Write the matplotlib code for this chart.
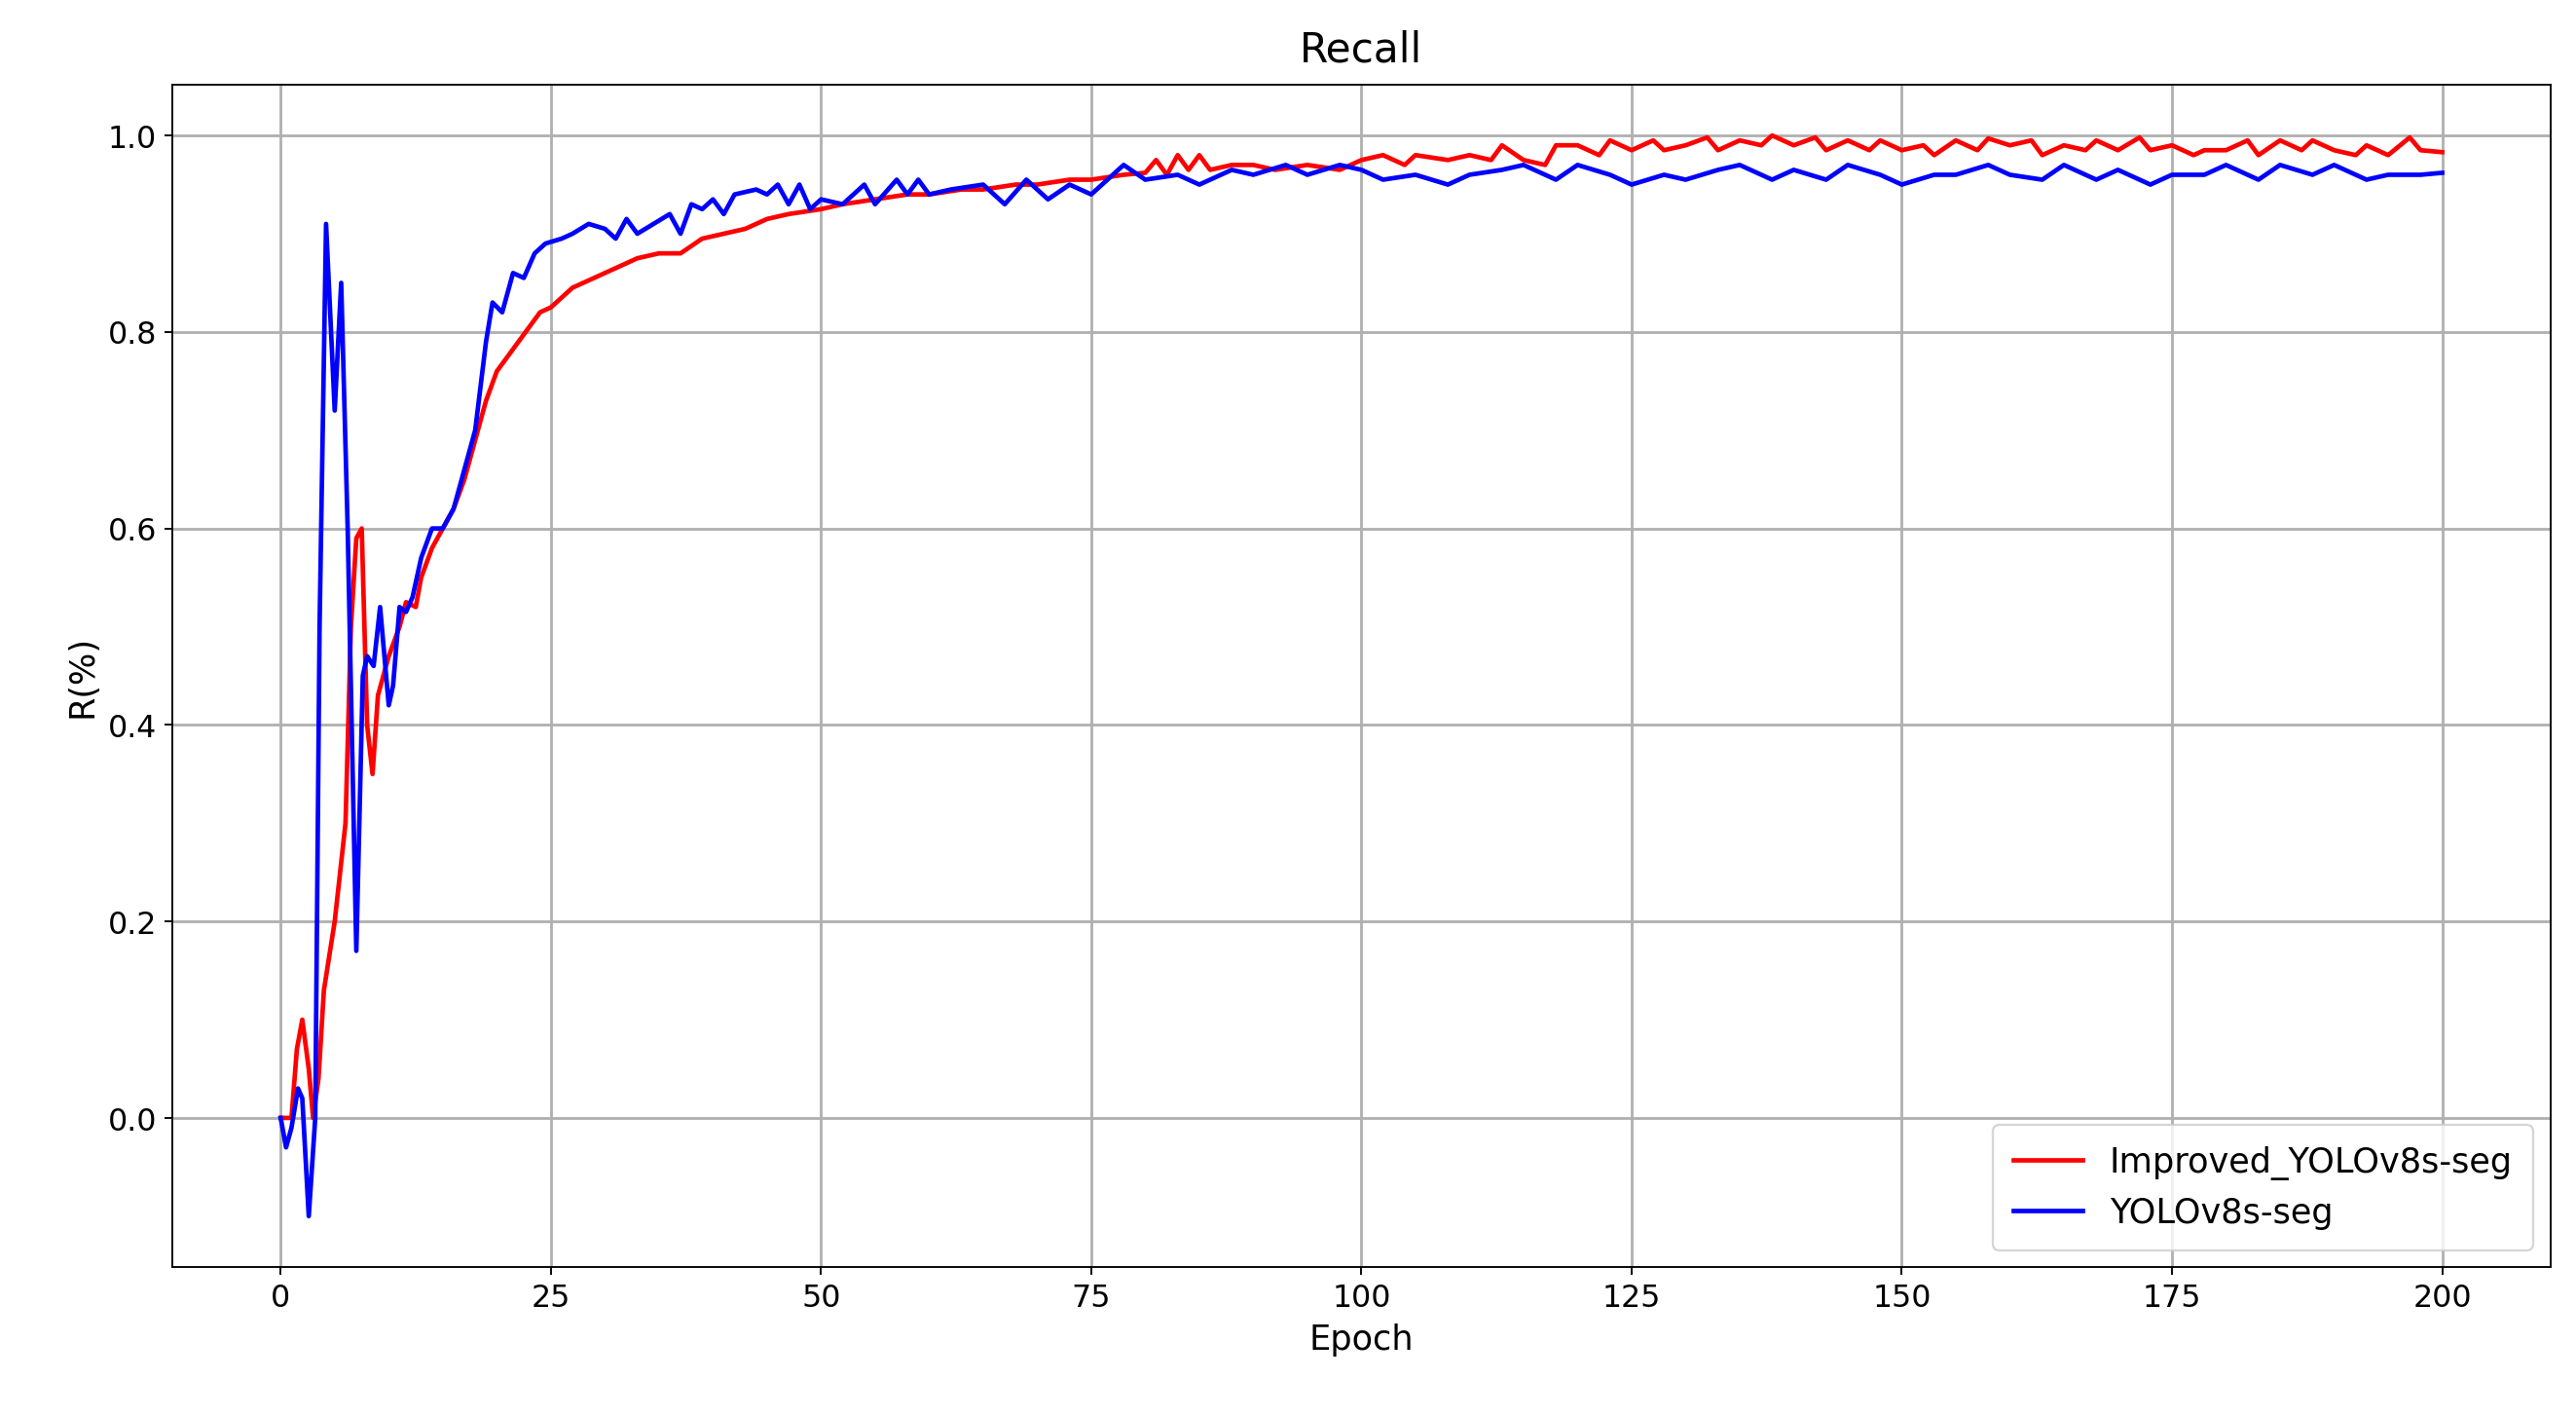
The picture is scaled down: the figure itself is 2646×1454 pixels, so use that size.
import numpy as np
import matplotlib.pyplot as plt

# Improved_YOLOv8s-seg recall
red_x = [0, 1, 1.5, 2, 2.6, 3, 3.5, 4, 5, 6, 6.5, 7, 7.5, 8, 8.5, 9, 10, 11, 11.6, 12.5, 13, 14, 15, 16, 17, 18, 19, 20,
         22, 24, 25, 27, 29, 31, 33, 35, 37, 39, 41, 43, 45, 47, 50, 52, 55, 58, 60, 63, 65, 68, 70, 73, 75, 78, 80, 81,
         82, 83, 84, 85, 86, 88, 90, 92, 95, 98, 100, 102, 104, 105, 108, 110, 112, 113, 115, 117, 118, 120, 122, 123,
         125, 127, 128, 130, 132, 133, 135, 137, 138, 140, 142, 143, 145, 147, 148, 150, 152, 153, 155, 157, 158, 160,
         162, 163, 165, 167, 168, 170, 172, 173, 175, 177, 178, 180, 182, 183, 185, 187, 188, 190, 192, 193, 195, 197,
         198, 200]
red_y = [0.0, 0.0, 0.07, 0.1, 0.05, 0.0, 0.04, 0.13, 0.2, 0.3, 0.5, 0.59, 0.6, 0.4, 0.35, 0.43, 0.47, 0.5, 0.525, 0.52,
         0.55, 0.58, 0.6, 0.62, 0.65, 0.69, 0.73, 0.76, 0.79, 0.82, 0.825, 0.845, 0.855, 0.865, 0.875, 0.88, 0.88, 0.895,
         0.9, 0.905, 0.915, 0.92, 0.925, 0.93, 0.935, 0.94, 0.94, 0.945, 0.945, 0.95, 0.95, 0.955, 0.955, 0.96, 0.962,
         0.975, 0.96, 0.98, 0.965, 0.98, 0.965, 0.97, 0.97, 0.965, 0.97, 0.965, 0.975, 0.98, 0.97, 0.98, 0.975, 0.98,
         0.975, 0.99, 0.975, 0.97, 0.99, 0.99, 0.98, 0.995, 0.985, 0.995, 0.985, 0.99, 0.998, 0.985, 0.995, 0.99, 1.0,
         0.99, 0.998, 0.985, 0.995, 0.985, 0.995, 0.985, 0.99, 0.98, 0.995, 0.985, 0.997, 0.99, 0.995, 0.98, 0.99,
         0.985, 0.995, 0.985, 0.998, 0.985, 0.99, 0.98, 0.985, 0.985, 0.995, 0.98, 0.995, 0.985, 0.995, 0.985, 0.98,
         0.99, 0.98, 0.998, 0.985, 0.983]

# YOLOv8s-seg recall
blue_x = [0, 0.5, 1, 1.6, 2, 2.6, 3.2, 3.6, 4.2, 5, 5.6, 6.2, 7, 7.6, 8, 8.6, 9.2, 10, 10.4, 11, 11.6, 12.2, 13, 14,
          15, 16, 17, 18, 19, 19.6, 20.5, 21.5, 22.5, 23.5, 24.5, 26, 27, 28.5, 30, 31, 32, 33, 34.5, 36, 37, 38, 39,
          40, 41, 42, 44, 45, 46, 47, 48, 49, 50, 52, 54, 55, 57, 58, 59, 60, 62, 65, 67, 69, 71, 73, 75, 78, 80, 83,
          85, 88, 90, 93, 95, 98, 100, 102, 105, 108, 110, 113, 115, 118, 120, 123, 125, 128, 130, 133, 135, 138, 140,
          143, 145, 148, 150, 153, 155, 158, 160, 163, 165, 168, 170, 173, 175, 178, 180, 183, 185, 188, 190, 193, 195,
          198, 200]
blue_y = [0.0, -0.03, -0.01, 0.03, 0.02, -0.1, 0.0, 0.5, 0.91, 0.72, 0.85, 0.6, 0.17, 0.45, 0.47, 0.46, 0.52, 0.42,
          0.44, 0.52, 0.515, 0.53, 0.57, 0.6, 0.6, 0.62, 0.66, 0.7, 0.79, 0.83, 0.82, 0.86, 0.855, 0.88, 0.89, 0.895,
          0.9, 0.91, 0.905, 0.895, 0.915, 0.9, 0.91, 0.92, 0.9, 0.93, 0.925, 0.935, 0.92, 0.94, 0.945, 0.94, 0.95,
          0.93, 0.95, 0.925, 0.935, 0.93, 0.95, 0.93, 0.955, 0.94, 0.955, 0.94, 0.945, 0.95, 0.93, 0.955, 0.935, 0.95,
          0.94, 0.97, 0.955, 0.96, 0.95, 0.965, 0.96, 0.97, 0.96, 0.97, 0.965, 0.955, 0.96, 0.95, 0.96, 0.965, 0.97,
          0.955, 0.97, 0.96, 0.95, 0.96, 0.955, 0.965, 0.97, 0.955, 0.965, 0.955, 0.97, 0.96, 0.95, 0.96, 0.96, 0.97,
          0.96, 0.955, 0.97, 0.955, 0.965, 0.95, 0.96, 0.96, 0.97, 0.955, 0.97, 0.96, 0.97, 0.955, 0.96, 0.96, 0.962]

fig = plt.figure(figsize=(15.68, 8.62), dpi=168.75)
ax = fig.add_axes([0.067, 0.105, 0.923, 0.835])
ax.plot(red_x, red_y, color='red', lw=2, label='Improved_YOLOv8s-seg')
ax.plot(blue_x, blue_y, color='blue', lw=2, label='YOLOv8s-seg')
ax.set_xlim(-10, 210)
ax.set_ylim(-0.152, 1.052)
ax.set_xticks(np.arange(0, 201, 25))
ax.grid(True, color='#b0b0b0', lw=1.2)
ax.tick_params(labelsize=13.5)
ax.set_title('Recall', fontsize=18, pad=10)
ax.set_xlabel('Epoch', fontsize=15)
ax.set_ylabel('R(%)', fontsize=15)
ax.legend(loc='lower right', fontsize=15, borderpad=0.6)
fig.savefig('out.png')
